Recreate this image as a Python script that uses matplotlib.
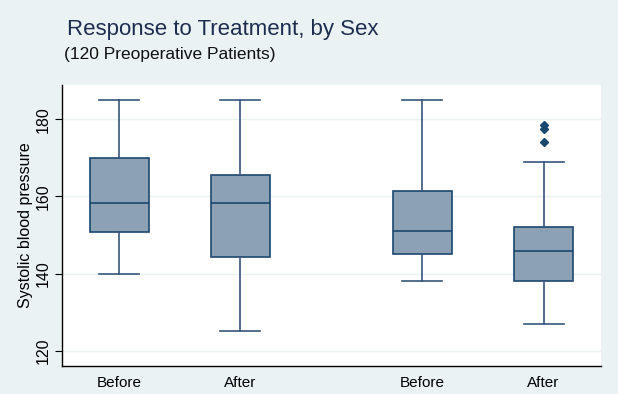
import numpy as np
from matplotlib import pyplot as plt

# box statistics (systolic blood pressure)
groups = ["Before", "After", "Before", "After"]
whislo = [140, 125, 138, 127]
q1 = [150.7, 144.3, 145, 138.1]
med = [158.2, 158.4, 151, 145.8]
q3 = [170, 165.5, 161.4, 152]
whishi = [185, 185, 185, 169]
fliers = [[], [], [], [178.6, 177.4, 174.1]]
positions = [1, 2, 3.5, 4.5]

bg = "#EAF2F3"
navy = "#1A476F"

def main():
    plt.rcParams['font.family'] = ['Liberation Sans', 'DejaVu Sans']
    fig = plt.figure(figsize=(6.18, 3.94), dpi=100, facecolor=bg)
    ax = fig.add_axes([0.0998, 0.0711, 0.8727, 0.7129])
    ax.set_facecolor("white")

    stats = []
    for i in range(len(groups)):
        stats.append({"label": groups[i], "whislo": whislo[i], "q1": q1[i],
                      "med": med[i], "q3": q3[i], "whishi": whishi[i],
                      "fliers": fliers[i]})

    ax.bxp(stats, positions=positions, widths=0.487, patch_artist=True,
           showfliers=True,
           boxprops=dict(facecolor="#8DA1B5", edgecolor=navy, linewidth=1.2),
           medianprops=dict(color=navy, linewidth=1.2),
           whiskerprops=dict(color="#36567A", linewidth=1.2),
           capprops=dict(color="#36567A", linewidth=1.2),
           capwidths=0.33,
           flierprops=dict(marker="D", markersize=4, markerfacecolor=navy,
                           markeredgecolor=navy))

    ax.set_xlim(0.527, 4.973)
    ax.set_ylim(116.0, 188.9)
    ax.set_yticks([120, 140, 160, 180])
    ax.set_yticklabels(["120", "140", "160", "180"], rotation=90, va="center",
                       fontsize=11.5)
    ax.tick_params(axis="y", direction="out", length=5, width=0.8, pad=3)
    ax.tick_params(axis="x", length=0, pad=7, labelsize=11)
    ax.yaxis.grid(True, color=bg, linewidth=1)
    ax.set_axisbelow(True)

    for s in ["top", "right"]:
        ax.spines[s].set_visible(False)
    for s in ["left", "bottom"]:
        ax.spines[s].set_color("black")
        ax.spines[s].set_linewidth(1.0)

    ax.set_ylabel("Systolic blood pressure", fontsize=11.5, labelpad=2)

    fig.text(67 / 618, 1 - 30 / 394, "Response to Treatment, by Sex",
             fontsize=16, color="#1E2D4F", va="center", ha="left")
    fig.text(64 / 618, 1 - 55 / 394, "(120 Preoperative Patients)",
             fontsize=12.5, color="#111111", va="center", ha="left")

    fig.savefig("out.png", dpi=100, facecolor=bg)

if __name__ == "__main__":
    main()
